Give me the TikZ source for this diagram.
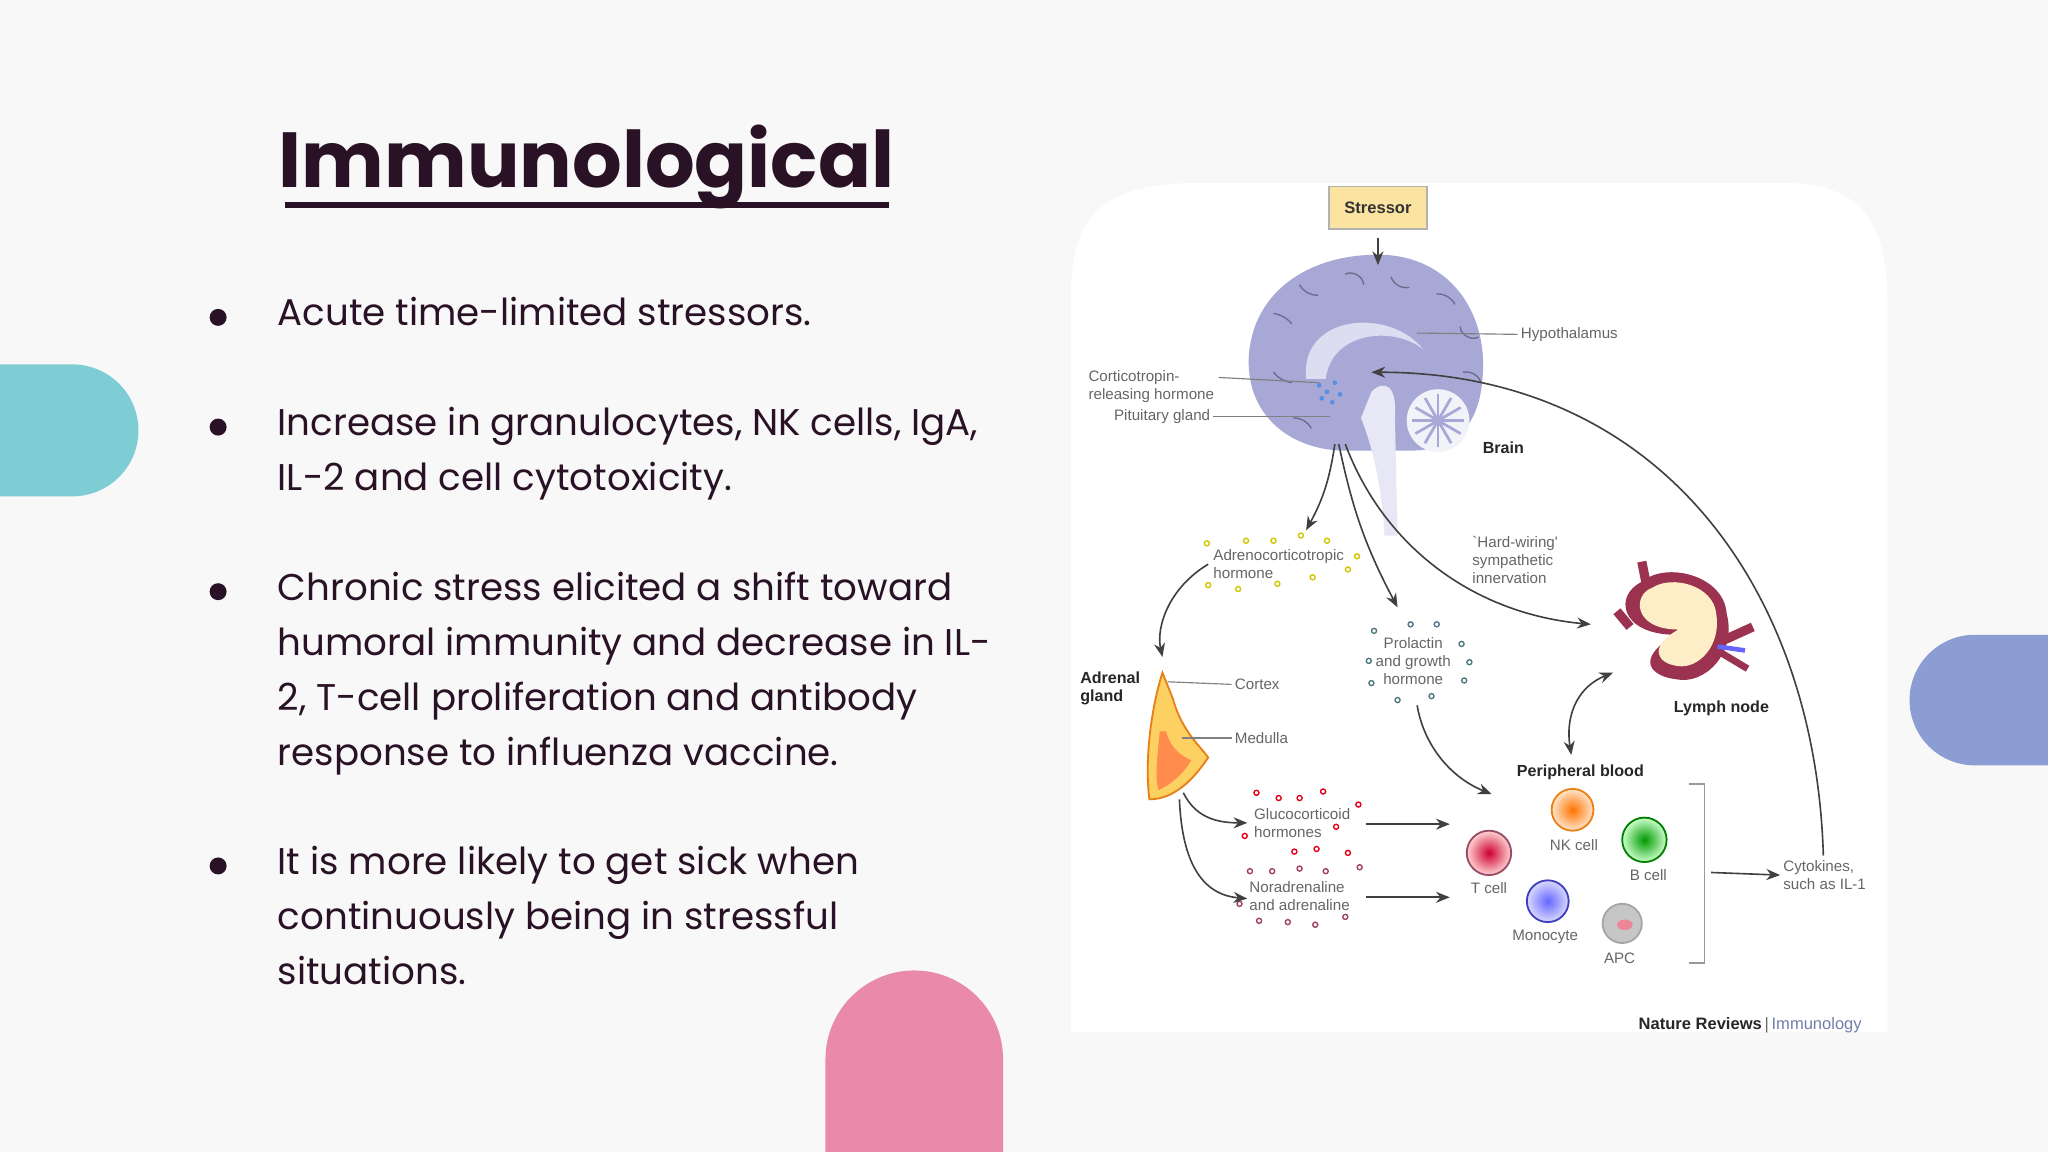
\documentclass[tikz,border=0pt]{standalone}
\usepackage{fontspec}
\setmainfont{Poppins}
\newfontfamily\lab{Liberation Sans}
\usetikzlibrary{arrows.meta,shapes.geometric}
\definecolor{bg}{HTML}{F8F8F8}
\definecolor{ink}{HTML}{2A1226}
\definecolor{teal}{HTML}{7ECCD4}
\definecolor{bluep}{HTML}{8C9DD4}
\definecolor{pinkp}{HTML}{E98AAA}
\definecolor{brainc}{HTML}{A7A8D6}
\definecolor{brainl}{HTML}{DCDDF0}
\definecolor{gold}{HTML}{FBE3A2}
\definecolor{lnred}{HTML}{9A3250}
\tikzset{
 lb/.style={font=\lab\fontsize{3.3}{3.9}\selectfont,text=black!60,inner sep=0.5pt,align=left},
 lbb/.style={font=\lab\bfseries\fontsize{3.5}{4}\selectfont,text=black!85,inner sep=0.5pt,align=left},
 arr/.style={-{Stealth[length=3pt,width=2.4pt]},line width=0.35pt,black!75},
 lead/.style={line width=0.25pt,black!50},
 bul/.style={font=\fontsize{8.1}{12}\selectfont,text=ink,anchor=north west,align=left,inner sep=0pt},
 dot/.style={circle,draw=#1,line width=0.3pt,inner sep=0pt,minimum size=1.1pt},
}
\begin{document}
\begin{tikzpicture}[x=0.01cm,y=-0.01cm]
\fill[bg] (0,0) rectangle (1568,882);
\useasboundingbox (0,0) rectangle (1568,882);
% decorations
\fill[teal,rounded corners=0.505cm] (-80,279) rectangle (106,380);
\fill[bluep,rounded corners=0.5cm] (1462,486) rectangle (1650,586);
\fill[pinkp,rounded corners=0.68cm] (632,743) rectangle (768,960);
% title
\node[font=\bfseries\fontsize{17}{20}\selectfont,text=ink,inner sep=0pt] (title) at (449,128) {Immunological};
\draw[ink,line width=1.2pt] (218,157) -- (681,157);
% bullets
\foreach \y in {243,327,453,663} \fill[ink] (167,\y) circle (6.5);
\node[bul] (b1) at (212,227) {Acute time-limited stressors.};
\node[bul] (b2) at (212,311) {Increase in granulocytes, NK cells, IgA,\\IL-2 and cell cytotoxicity.};
\node[bul] (b3) at (212,437) {Chronic stress elicited a shift toward\\humoral immunity and decrease in IL-\\2, T-cell proliferation and antibody\\response to influenza vaccine.};
\node[bul] (b4) at (212,647) {It is more likely to get sick when\\continuously being in stressful\\situations.};
% panel
\fill[white] (820,790) -- (820,225) .. controls (820,160) and (850,140) .. (920,140) -- (1365,140) .. controls (1425,140) and (1445,170) .. (1445,230) -- (1445,790) -- cycle;
% stressor
\node[draw=black!30,fill=gold,minimum width=0.75cm,minimum height=0.32cm,font=\lab\bfseries\fontsize{3.6}{4}\selectfont,text=black!80] (str) at (1055,159) {Stressor};
% brain
\fill[brainc] (1030,345) .. controls (990,345) and (955,320) .. (956,275) .. controls (958,225) and (1000,195) .. (1055,195) .. controls (1110,195) and (1140,240) .. (1135,290) .. controls (1132,330) and (1110,345) .. (1080,345) -- cycle;
\foreach \a/\b/\c in {975/240/20,995/218/-30,1030/210/60,1065/212/-40,1100/225/30,1118/250/-60,1120/285/40,975/285/-20,990/320/30} \draw[brainc!65!black,line width=0.3pt] (\a,\b) to[bend left=\c] ++(14,8);
\fill[brainl] (1000,290) .. controls (995,240) and (1065,235) .. (1090,268) .. controls (1070,250) and (1020,252) .. (1015,290) -- cycle;
\fill[brainl!70!white] (1050,300) .. controls (1060,290) and (1070,295) .. (1068,320) -- (1070,410) -- (1060,410) .. controls (1058,370) and (1050,340) .. (1042,320) -- cycle;
\fill[white!85!brainc] (1101,322) circle (24);
\foreach \a in {0,30,...,330} \draw[brainc,line width=0.6pt] (1101,322) -- ++(\a:20);
\foreach \p in {(1010,295),(1016,300),(1022,293),(1012,305),(1020,308),(1026,302)} \fill[teal!70!blue] \p circle (1.8);
\coordinate (brainB) at (1022,340);
\coordinate (hypo) at (1050,285);
\node[lb,anchor=west] (hyl) at (1162,256) {Hypothalamus};
\draw[lead] (1085,255) -- (hyl.west);
\node[lb,anchor=east,align=left] (crh) at (932,296) {Corticotropin-\\releasing hormone};
\draw[lead] (933,289) -- (1010,293);
\node[lb,anchor=east] (pit) at (929,319) {Pituitary gland};
\draw[lead] (pit.east) -- (1018,319);
\node[lbb] (brl) at (1151,343) {Brain};
\draw[arr] (str.south) ++(0,6) -- (1055,203);
% ACTH
\node[lb] (acth) at (979,432) {Adrenocorticotropic\\hormone};
\foreach \p in {(924,416),(954,414),(975,414),(996,410),(1016,414),(1039,426),(1032,436),(1005,442),(978,447),(948,451),(925,448)} \node[dot=yellow!60!olive] at \p {};
\draw[arr] (brainB) to[bend left=10] (1000,406);
% prolactin
\node[lb,align=center] (prl) at (1082,506) {Prolactin\\and growth\\hormone};
\foreach \p in {(1052,483),(1080,478),(1100,478),(1119,493),(1048,506),(1125,507),(1050,523),(1121,521),(1070,536),(1096,533)} \node[dot=teal!60!black] at \p {};
\draw[arr] (1025,340) to[bend right=8] (1070,465);
% lymph node
\draw[lnred,line width=2pt] (1260,445) -- (1257,430);
\draw[lnred,line width=2pt] (1320,490) -- (1342,480);
\draw[lnred,line width=1.5pt] (1318,500) -- (1338,512);
\draw[lnred,line width=2pt] (1248,480) -- (1238,468);
\fill[lnred] (1283,486) .. controls (1240,486) and (1235,455) .. (1258,445) .. controls (1275,430) and (1320,440) .. (1322,470) .. controls (1330,500) and (1305,525) .. (1283,520) .. controls (1265,518) and (1250,505) .. cycle;
\fill[gold!60!white] (1285,482) .. controls (1250,482) and (1250,455) .. (1265,450) .. controls (1280,440) and (1312,448) .. (1314,470) .. controls (1318,495) and (1300,512) .. (1285,510) .. controls (1268,508) and (1262,495) .. cycle;
\draw[blue!60,line width=1pt] (1315,495) -- (1336,498);
\coordinate (lnW) at (1218,478);
\node[lbb] (lnl) at (1318,542) {Lymph node};
\node[lb] (hw) at (1160,429) {`Hard-wiring'\\sympathetic\\innervation};
\draw[arr] (1030,340) .. controls (1060,420) and (1130,470) .. (lnW);
% adrenal
\fill[yellow!45!orange!60!white,draw=orange!60!brown,line width=0.4pt] (890,515) .. controls (882,540) and (876,580) .. (880,612) .. controls (900,612) and (915,595) .. (925,580) .. controls (918,570) and (905,560) .. (898,535) -- cycle;
\fill[orange!70!red!70!white] (888,560) .. controls (886,580) and (884,595) .. (887,605) .. controls (898,600) and (908,590) .. (912,582) .. controls (902,578) and (895,570) .. (893,560) -- cycle;
\node[lbb] (adl) at (850,527) {Adrenal\\gland};
\node[lb,anchor=west] (ctx) at (943,524) {Cortex};
\draw[lead] (894,522) -- (ctx.west);
\node[lb,anchor=west] (med) at (943,565) {Medulla};
\draw[lead] (905,565) -- (med.west);
\draw[arr] (925,432) .. controls (895,450) and (885,480) .. (890,503);
% glucocorticoid
\node[lb] (glu) at (997,630) {Glucocorticoid\\hormones};
\foreach \p in {(962,607),(979,611),(995,611),(1013,606),(1040,616),(953,640),(1023,633),(1032,653),(1008,650),(991,652)} \node[dot=red!60!purple] at \p {};
\node[lb] (nor) at (995,686) {Noradrenaline\\and adrenaline};
\foreach \p in {(957,667),(974,667),(995,665),(1015,667),(1041,664),(949,692),(1030,702),(1007,708),(986,706),(964,705)} \node[dot=purple!50!gray] at \p {};
\draw[arr] (906,607) .. controls (915,625) and (930,630) .. (955,630);
\draw[arr] (903,612) .. controls (905,660) and (920,685) .. (955,688);
\draw[arr] (1046,631) -- (1110,631);
\draw[arr] (1046,687) -- (1110,687);
\draw[arr] (1085,540) .. controls (1090,570) and (1110,595) .. (1142,608);
% cells
\shade[inner color=purple!80!red,outer color=pink!70!white,draw=purple!40!gray] (1140,653) circle (17);
\shade[inner color=orange!90!red,outer color=orange!20!white,draw=orange!70!brown] (1204,620) circle (16);
\shade[inner color=green!60!black,outer color=green!20!white,draw=green!50!black] (1259,643) circle (17);
\shade[inner color=blue!60!white,outer color=blue!15!white,draw=blue!50!gray] (1185,690) circle (16);
\fill[gray!45,draw=gray!70] (1242,707) circle (15);
\fill[pink!70!purple] (1244,708) ellipse (6 and 4);
\node[lb] (tc) at (1140,680) {T cell};
\node[lb] (nk) at (1205,647) {NK cell};
\node[lb] (bc) at (1262,670) {B cell};
\node[lb] (mo) at (1183,717) {Monocyte};
\node[lb] (apc) at (1240,734) {APC};
\node[lbb] (pb) at (1210,591) {Peripheral blood};
\draw[{Stealth[length=3pt,width=2.4pt]}-{Stealth[length=3pt,width=2.4pt]},line width=0.35pt,black!75] (1203,578) .. controls (1198,545) and (1210,525) .. (1235,515);
\draw[line width=0.4pt,black!40] (1293,600) -- (1305,600) -- (1305,737) -- (1293,737);
\node[lb] (cyt) at (1397,670) {Cytokines,\\such as IL-1};
\draw[arr] (1310,668) -- (cyt.west);
\draw[arr] (1396,655) .. controls (1390,450) and (1270,285) .. (hypo);
\node[font=\lab\bfseries\fontsize{3.6}{4}\selectfont,inner sep=0pt,text=black!85] (nr) at (1340,785) {Nature Reviews\,{\mdseries\color{black!60}|}\,{\color{bluep!80!black}\mdseries Immunology}};
\end{tikzpicture}
\end{document}
